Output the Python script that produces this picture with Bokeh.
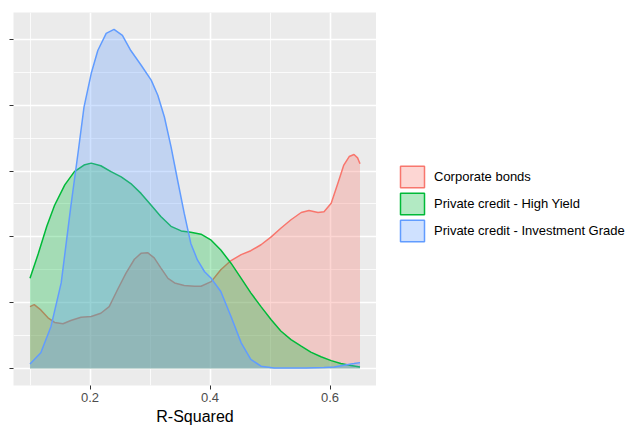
from bokeh.plotting import figure
from bokeh.layouts import row
from bokeh.models import Range1d, FixedTicker, Legend, LegendItem, ColumnDataSource
from bokeh.embed import file_html
from bokeh.resources import INLINE

# ---- data ----
series_names = ["Corporate bonds", "Private credit - High Yield", "Private credit - Investment Grade"]
series_colors = ["#F8766D", "#00BA38", "#619CFF"]

corp_x = [0.100, 0.107, 0.118, 0.130, 0.141, 0.155, 0.168, 0.185, 0.202, 0.218, 0.232, 0.246,
          0.260, 0.274, 0.285, 0.296, 0.307, 0.318, 0.330, 0.341, 0.357, 0.374, 0.385, 0.402,
          0.418, 0.435, 0.452, 0.468, 0.485, 0.502, 0.518, 0.535, 0.552, 0.565, 0.580, 0.590,
          0.602, 0.613, 0.623, 0.632, 0.640, 0.646, 0.650]
corp_y = [0.94, 0.97, 0.89, 0.77, 0.70, 0.68, 0.73, 0.78, 0.79, 0.84, 0.94, 1.20,
          1.45, 1.66, 1.75, 1.76, 1.68, 1.53, 1.37, 1.30, 1.26, 1.25, 1.25, 1.32,
          1.50, 1.64, 1.73, 1.79, 1.88, 2.00, 2.13, 2.26, 2.37, 2.40, 2.37, 2.38,
          2.51, 2.81, 3.09, 3.22, 3.25, 3.20, 3.11]

hy_x = [0.100, 0.114, 0.128, 0.141, 0.158, 0.174, 0.190, 0.202, 0.218, 0.235, 0.252, 0.268,
        0.285, 0.302, 0.318, 0.335, 0.352, 0.368, 0.385, 0.402, 0.418, 0.435, 0.452, 0.468,
        0.485, 0.502, 0.518, 0.535, 0.552, 0.568, 0.585, 0.602, 0.618, 0.635, 0.650]
hy_y = [1.37, 1.75, 2.16, 2.48, 2.79, 2.99, 3.09, 3.12, 3.08, 2.99, 2.91, 2.81,
        2.66, 2.48, 2.31, 2.16, 2.09, 2.07, 2.04, 1.95, 1.80, 1.60, 1.37, 1.15,
        0.94, 0.74, 0.57, 0.44, 0.34, 0.25, 0.18, 0.12, 0.076, 0.045, 0.025]

ig_x = [0.100, 0.118, 0.135, 0.152, 0.168, 0.180, 0.190, 0.202, 0.213, 0.227, 0.240, 0.254,
        0.268, 0.285, 0.302, 0.313, 0.324, 0.335, 0.346, 0.357, 0.368, 0.379, 0.391, 0.402,
        0.418, 0.435, 0.452, 0.468, 0.485, 0.507, 0.530, 0.560, 0.590, 0.607, 0.623, 0.640, 0.650]
ig_y = [0.07, 0.24, 0.64, 1.30, 2.46, 3.27, 3.97, 4.48, 4.83, 5.09, 5.15, 5.06,
        4.83, 4.61, 4.38, 4.15, 3.82, 3.37, 2.86, 2.36, 1.90, 1.65, 1.47, 1.37,
        1.17, 0.79, 0.39, 0.14, 0.035, 0.01, 0.01, 0.01, 0.015, 0.025, 0.05, 0.075, 0.09]

x_ticks = [0.2, 0.4, 0.6]
x_minor = [0.1, 0.3, 0.5]
x_tick_labels = ["0.2", "0.4", "0.6"]
y_ticks = [0, 1, 2, 3, 4, 5]
y_minor = [0.5, 1.5, 2.5, 3.5, 4.5]
x_label = "R-Squared"

# ---- main figure ----
xmin, xmax = 0.1, 0.65
ymax = max(max(corp_y), max(hy_y), max(ig_y))
xpad = (xmax - xmin) * 0.05
ypad = ymax * 0.05

p = figure(width=376, height=438, output_backend="svg", toolbar_location=None,
           x_range=Range1d(xmin - xpad, xmax + xpad), y_range=Range1d(-ypad, ymax + ypad),
           min_border_left=13, min_border_right=0, min_border_top=12, min_border_bottom=53)
p.background_fill_color = "#EBEBEB"
p.border_fill_color = "white"
p.outline_line_color = None

p.xaxis.ticker = FixedTicker(ticks=x_ticks, minor_ticks=x_minor)
p.yaxis.ticker = FixedTicker(ticks=y_ticks, minor_ticks=y_minor)
p.xaxis.major_label_overrides = {t: l for t, l in zip(x_ticks, x_tick_labels)}
p.yaxis.major_label_overrides = {t: "" for t in y_ticks}

for ax in (p.xaxis[0], p.yaxis[0]):
    ax.axis_line_color = None
    ax.major_tick_line_color = "#333333"
    ax.major_tick_line_width = 1
    ax.major_tick_in = 0
    ax.major_tick_out = 4
    ax.minor_tick_line_color = None
    ax.major_label_text_font = "Liberation Sans"
    ax.major_label_text_color = "#4D4D4D"
    ax.major_label_text_font_size = "13px"
p.yaxis.major_label_standoff = 0
p.xaxis.major_label_standoff = 3
p.xaxis.axis_label = x_label
p.xaxis.axis_label_text_font = "Liberation Sans"
p.xaxis.axis_label_text_font_style = "normal"
p.xaxis.axis_label_text_font_size = "16px"
p.xaxis.axis_label_text_color = "black"
p.xaxis.axis_label_standoff = 3

for g in (p.xgrid[0], p.ygrid[0]):
    g.grid_line_color = "white"
    g.grid_line_width = 1.6
    g.minor_grid_line_color = "white"
    g.minor_grid_line_width = 0.8

# ---- legend figure ----
lf = figure(width=267, height=438, output_backend="svg", toolbar_location=None,
            x_axis_type=None, y_axis_type=None,
            x_range=Range1d(xmin - xpad, xmax + xpad), y_range=Range1d(-ypad, ymax + ypad),
            min_border_left=0, min_border_right=0, min_border_top=0, min_border_bottom=0)
lf.outline_line_color = None
lf.background_fill_color = "white"
lf.border_fill_color = "white"
lf.xgrid.visible = False
lf.ygrid.visible = False

# ---- densities ----
legend_items = []
for name, color, xs, ys in zip(series_names, series_colors,
                               [corp_x, hy_x, ig_x], [corp_y, hy_y, ig_y]):
    src = ColumnDataSource(dict(x=xs, y=ys, z=[0] * len(xs)))
    p.varea(x="x", y1="z", y2="y", source=src, fill_color=color, fill_alpha=0.3)
    p.line(x="x", y="y", source=src, line_color=color, line_width=1.5)
    key = lf.quad(left=[min(xs)], right=[max(xs)], top=[max(ys)], bottom=[0],
                  fill_color=color, fill_alpha=0.3, line_color=color, line_width=1.5)
    key.visible = False
    legend_items.append(LegendItem(label=name, renderers=[key]))

legend = Legend(items=legend_items, location=(21, 141), orientation="vertical",
                glyph_width=30, glyph_height=27, spacing=0, label_height=27,
                label_standoff=7, padding=0, margin=0,
                border_line_color=None, background_fill_alpha=0,
                label_text_font="Liberation Sans", label_text_font_size="13px",
                label_text_color="black")
lf.add_layout(legend, "center")

layout = row(p, lf, spacing=0)
open("out.html", "w").write(file_html(layout, INLINE))
